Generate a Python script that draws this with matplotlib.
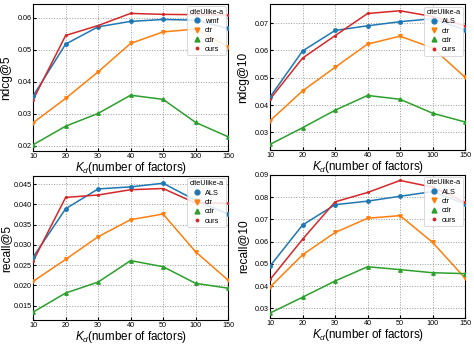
import matplotlib
matplotlib.use("Agg")
import matplotlib.pyplot as plt

plt.rcParams["font.family"] = ["Liberation Sans", "DejaVu Sans"]
plt.rcParams["mathtext.fontset"] = "custom"
plt.rcParams["mathtext.it"] = "Liberation Sans:italic"
plt.rcParams["mathtext.rm"] = "Liberation Sans"

factors = ["10", "20", "30", "40", "50", "100", "150"]

ndcg5_wmf = [0.0356, 0.0518, 0.0572, 0.0589, 0.0595, 0.0593, 0.0567]
ndcg5_ctr = [0.0272, 0.0348, 0.0431, 0.0520, 0.0556, 0.0565, 0.0510]
ndcg5_cdr = [0.0203, 0.0261, 0.0301, 0.0358, 0.0345, 0.0273, 0.0228]
ndcg5_ours = [0.0344, 0.0545, 0.0576, 0.0614, 0.0611, 0.0610, 0.0609]

ndcg10_als = [0.0430, 0.0598, 0.0673, 0.0690, 0.0705, 0.0716, 0.0675]
ndcg10_ctr = [0.0343, 0.0452, 0.0538, 0.0623, 0.0652, 0.0609, 0.0502]
ndcg10_cdr = [0.0256, 0.0317, 0.0381, 0.0435, 0.0421, 0.0370, 0.0338]
ndcg10_ours = [0.0422, 0.0572, 0.0654, 0.0735, 0.0745, 0.0724, 0.0690]

recall5_als = [0.0270, 0.0389, 0.0438, 0.0443, 0.0452, 0.0410, 0.0376]
recall5_ctr = [0.0210, 0.0264, 0.0320, 0.0362, 0.0376, 0.0283, 0.0213]
recall5_cdr = [0.0134, 0.0181, 0.0208, 0.0261, 0.0246, 0.0205, 0.0193]
recall5_ours = [0.0260, 0.0417, 0.0423, 0.0436, 0.0439, 0.0403, 0.0403]

recall10_als = [0.0491, 0.0675, 0.0766, 0.0782, 0.0804, 0.0825, 0.0770]
recall10_ctr = [0.0396, 0.0541, 0.0641, 0.0705, 0.0717, 0.0597, 0.0436]
recall10_cdr = [0.0279, 0.0350, 0.0423, 0.0487, 0.0474, 0.0460, 0.0456]
recall10_ours = [0.0430, 0.0611, 0.0779, 0.0821, 0.0875, 0.0845, 0.0777]

colors = ["#1f77b4", "#ff7f0e", "#2ca02c", "#d62728"]
markers = ["o", "v", "^", "."]

panels = [
    ("ndcg@5", ["wmf", "ctr", "cdr", "ours"], [ndcg5_wmf, ndcg5_ctr, ndcg5_cdr, ndcg5_ours],
     (0.0183, 0.0643), [0.02, 0.03, 0.04, 0.05, 0.06], "{:.2f}"),
    ("ndcg@10", ["ALS", "ctr", "cdr", "ours"], [ndcg10_als, ndcg10_ctr, ndcg10_cdr, ndcg10_ours],
     (0.0235, 0.0768), [0.03, 0.04, 0.05, 0.06, 0.07], "{:.2f}"),
    ("recall@5", ["ALS", "ctr", "cdr", "ours"], [recall5_als, recall5_ctr, recall5_cdr, recall5_ours],
     (0.0114, 0.0470), [0.015, 0.020, 0.025, 0.030, 0.035, 0.040, 0.045], "{:.3f}"),
    ("recall@10", ["ALS", "ctr", "cdr", "ours"], [recall10_als, recall10_ctr, recall10_cdr, recall10_ours],
     (0.0256, 0.0900), [0.03, 0.04, 0.05, 0.06, 0.07, 0.08, 0.09], "{:.2f}"),
]

fig = plt.figure(figsize=(4.74, 3.45), dpi=100)
rects = [
    [0.070, 0.562, 0.411, 0.426],
    [0.570, 0.565, 0.411, 0.422],
    [0.070, 0.072, 0.411, 0.418],
    [0.570, 0.078, 0.411, 0.415],
]

x = list(range(len(factors)))
for rect, (ylabel, names, series, ylim, yticks, fmt) in zip(rects, panels):
    ax = fig.add_axes(rect)
    for name, vals, c, m in zip(names, series, colors, markers):
        ax.plot(x, vals, color=c, linewidth=1.1, zorder=2)
        ax.plot(x, vals, linestyle="none", marker=m, color=c,
                markersize=2.5, zorder=3, label=name)
    ax.set_xlim(0, len(factors) - 1)
    ax.set_ylim(*ylim)
    ax.set_xticks(x)
    ax.set_xticklabels(factors)
    ax.set_yticks(yticks)
    ax.set_yticklabels([fmt.format(t) for t in yticks])
    ax.tick_params(direction="in", labelsize=5.2, length=2.5, pad=1.2)
    ax.grid(True, linestyle=":", color="#999999", linewidth=0.7)
    ax.set_ylabel(ylabel, fontsize=8.6)
    ax.yaxis.set_label_coords(-0.108, 0.5)
    ax.set_xlabel(r"$K_d$(number of factors)", fontsize=8.4, labelpad=0.3)
    leg = ax.legend(title="citeUlike-a", loc="upper right", fontsize=5.3,
                    title_fontsize=5.3, markerscale=1.4, framealpha=0.85,
                    handlelength=1.0, borderpad=0.3, labelspacing=0.3,
                    handletextpad=0.6, borderaxespad=0.3)
    leg.get_frame().set_linewidth(0.6)

fig.savefig("out.png", dpi=100)
